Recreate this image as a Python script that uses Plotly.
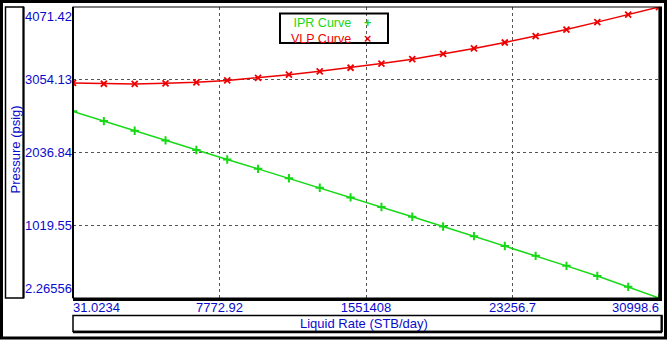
import plotly.graph_objects as go

# ---- data ----
liquid_rate = [31.0234, 1660.9, 3290.8, 4920.7, 6550.7, 8180.6, 9810.5, 11440.4,
               13070.3, 14700.2, 16330.1, 17960.0, 19589.9, 21219.8, 22849.7,
               24479.6, 26109.5, 27739.5, 29369.4, 30998.6]
ipr_pressure = [2612, 2476, 2340, 2206, 2072, 1940, 1808, 1676, 1543, 1409,
                1274, 1138, 1003, 867, 730, 592, 452, 311, 158, 2.26556]
vlp_pressure = [3010, 2998, 2996, 3004, 3018, 3045, 3080, 3125, 3172, 3222,
                3280, 3342, 3415, 3492, 3575, 3665, 3756, 3860, 3965, 4071.42]

x_min, x_max = 31.0234, 30998.6
y_min, y_max = 2.26556, 4071.42
x_mid_ticks = [7772.92, 15514.8, 23256.7]
x_mid_text = ["7772.92", "1551408", "23256.7"]
y_mid_ticks = [1019.55, 2036.84, 3054.13]
y_mid_text = ["1019.55", "2036.84", "3054.13"]

# ---- layout geometry (pixels) ----
W, H = 667, 340
L, R, T, B = 73, 659, 7, 298
BLUE = "#0A0ACD"
GREEN = "#16D916"
RED = "#EE0000"
FONT = "Arial, Liberation Sans, sans-serif"


def px(x):
    return (x - L) / (R - L)


def py(y):
    return (B - y) / (B - T)


fig = go.Figure()
fig.add_trace(go.Scatter(
    x=liquid_rate, y=ipr_pressure, mode="lines+markers", name="IPR Curve",
    line=dict(color=GREEN, width=1.5),
    marker=dict(symbol="cross-thin", size=6, line=dict(color=GREEN, width=2)),
))
fig.add_trace(go.Scatter(
    x=liquid_rate, y=vlp_pressure, mode="lines+markers", name="VLP Curve",
    line=dict(color=RED, width=1.5),
    marker=dict(symbol="x-thin", size=6, line=dict(color=RED, width=1.8)),
))
# invisible carriers so the overlay axes (end tick labels) are drawn
for xa, ya in (("x2", "y2"), ("x3", "y3")):
    fig.add_trace(go.Scatter(x=liquid_rate, y=vlp_pressure, xaxis=xa, yaxis=ya,
                             mode="markers", marker=dict(opacity=0),
                             hoverinfo="skip", showlegend=False))

tickfont = dict(family=FONT, size=13, color=BLUE)
common_x = dict(range=[x_min, x_max], showline=False, zeroline=False, ticks="",
                tickfont=tickfont, fixedrange=True, automargin=False)
common_y = dict(range=[y_min, y_max], showline=False, zeroline=False, ticks="",
                tickfont=tickfont, fixedrange=True, automargin=False)

fig.update_layout(
    width=W, height=H,
    margin=dict(l=L, r=W - R, t=T, b=H - B, pad=0, autoexpand=False),
    paper_bgcolor="white", plot_bgcolor="white",
    showlegend=False,
    xaxis=dict(**common_x, tickmode="array", tickvals=x_mid_ticks, ticktext=x_mid_text,
               showgrid=True, gridcolor="#555555", griddash="dot", gridwidth=1),
    xaxis2=dict(**common_x, overlaying="x", anchor="y2", side="bottom",
                tickmode="array", tickvals=[x_min], ticktext=["31.0234"],
                ticklabelposition="outside right", showgrid=False),
    xaxis3=dict(**common_x, overlaying="x", anchor="y3", side="bottom",
                tickmode="array", tickvals=[x_max], ticktext=["30998.6"],
                ticklabelposition="outside left", showgrid=False),
    yaxis=dict(**common_y, tickmode="array", tickvals=y_mid_ticks, ticktext=y_mid_text,
               showgrid=True, gridcolor="#555555", griddash="dot", gridwidth=1),
    yaxis2=dict(**common_y, overlaying="y", anchor="x2", side="left",
                tickmode="array", tickvals=[y_max], ticktext=["4071.42"],
                ticklabelposition="outside bottom", showgrid=False),
    yaxis3=dict(**common_y, overlaying="y", anchor="x3", side="left",
                tickmode="array", tickvals=[y_min], ticktext=["2.26556"],
                ticklabelposition="outside top", showgrid=False),
)

shapes = []


def rect(x0, y0, x1, y1, w=1.5):
    shapes.append(dict(type="rect", xref="paper", yref="paper",
                       x0=px(x0), x1=px(x1), y0=py(y1), y1=py(y0),
                       line=dict(color="black", width=w), layer="above"))


def line(x0, y0, x1, y1, w=1.5, color="black"):
    shapes.append(dict(type="line", xref="paper", yref="paper",
                       x0=px(x0), x1=px(x1), y0=py(y0), y1=py(y1),
                       line=dict(color=color, width=w), layer="above"))


# outer frame
rect(1.5, 1.5, W - 1.5, H - 2, w=3)
# plot frame with shadowed right/bottom
rect(L, T, R, B, w=1.2)
line(L, T, L, B, w=2)
line(R + 1.5, T - 0.5, R + 1.5, B + 3, w=3)
line(L, B + 1.5, R + 3, B + 1.5, w=3)
# y title box
rect(5.5, T, 23.5, B, w=1.5)
line(23.5, T, 23.5, B, w=2)
# x title box
rect(L, 315.5, 662, 331.5, w=1.5)
line(L, 332, 662, 332, w=2.5)
line(661.5, 315.5, 661.5, 332, w=2)
# legend box
rect(280, 13.5, 388, 43, w=2)

fig.update_layout(shapes=shapes)

ann = []


def text(x, y, s, size=13, xanchor="center", angle=0, color=BLUE, align="center"):
    ann.append(dict(xref="paper", yref="paper", x=px(x), y=py(y), text=s,
                    showarrow=False, xanchor=xanchor, yanchor="middle",
                    textangle=angle, align=align, borderpad=0,
                    font=dict(family=FONT, size=size, color=color)))


text(352, 30.5,
     f"<span style='color:{GREEN}'>IPR Curve</span><br>"
     f"<span style='color:{RED}'>VLP Curve</span>",
     size=12.5, xanchor="right", align="right")
text(367, 30.5,
     f"<span style='color:{GREEN}'><b>+</b></span><br>"
     f"<span style='color:{RED}'><b>×</b></span>",
     size=12.5)
text(14.5, 150, "Pressure (psig)", angle=-90)
text(364, 323.5, "Liquid Rate (STB/day)")
fig.update_layout(annotations=ann)

fig.write_html(
    "out.html",
    config={"displayModeBar": False, "staticPlot": True},
    post_script="document.body.style.margin='0';document.body.style.overflow='hidden';",
)
